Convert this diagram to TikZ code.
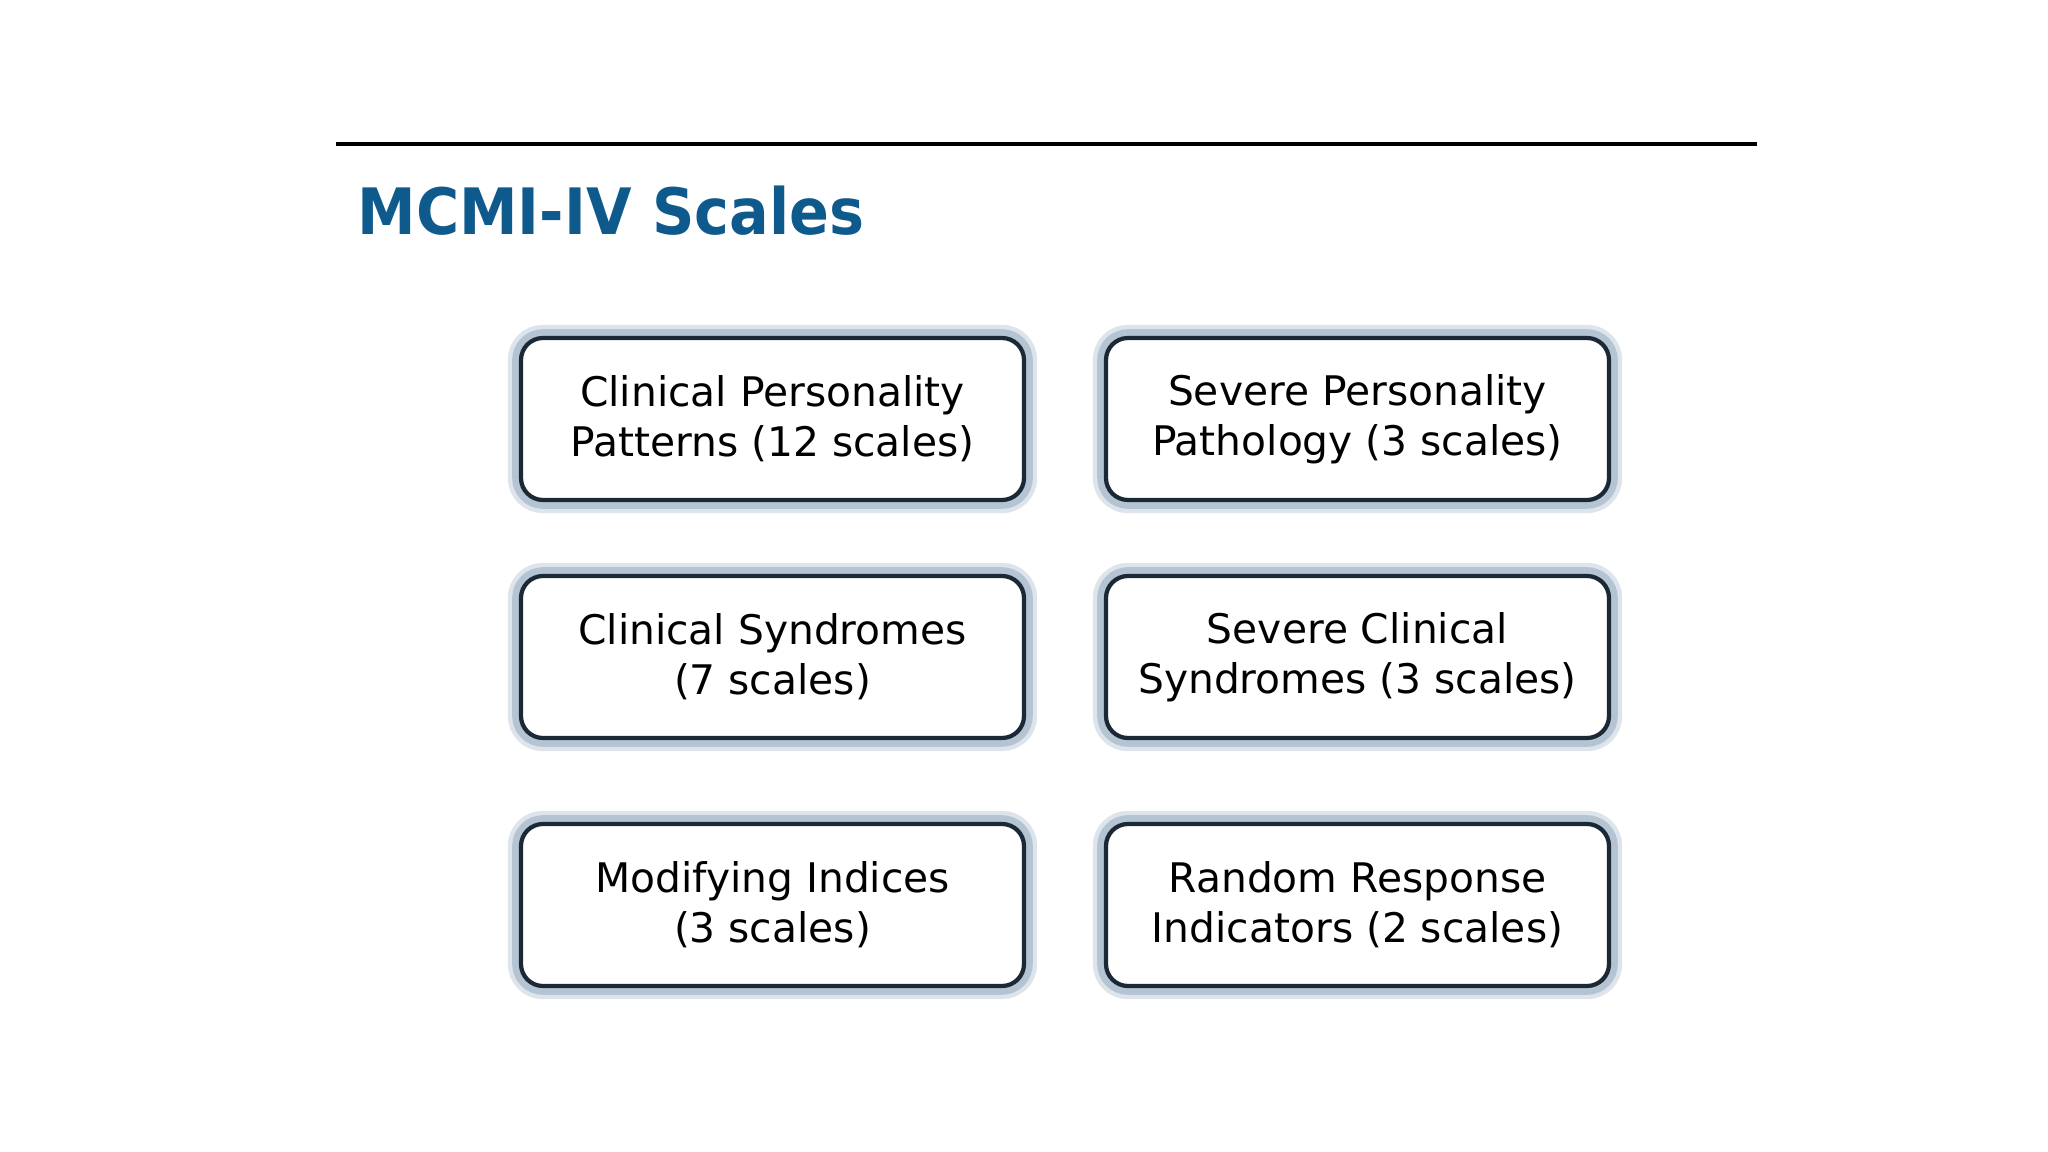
\documentclass[tikz,border=0pt]{standalone}
\usepackage{fontspec}
\setmainfont{DejaVu Sans}
\usetikzlibrary{positioning}
\definecolor{titleblue}{HTML}{0F5A8C}
\definecolor{boxedge}{HTML}{1B2836}
\definecolor{boxhalo}{HTML}{B4C4D2}
\tikzset{
  % kotak skala: tepi gelap dengan pendaran biru muda
  scalebox/.style={draw=boxedge, line width=1.2pt, rounded corners=0.22cm,
                   fill=white, minimum width=5.03cm, minimum height=1.62cm,
                   align=center, font=\fontsize{11.6}{14.2}\selectfont,
                   preaction={draw=boxhalo!45, line width=7.5pt},
                   preaction={draw=boxhalo, line width=5pt}},
  % judul slide
  slidetitle/.style={font=\fontsize{18.2}{22}\selectfont\bfseries, text=titleblue,
                     anchor=base west, inner sep=0pt, transform shape, xscale=0.92},
}

\begin{document}
\begin{tikzpicture}
\useasboundingbox (0,0) rectangle (20.48,-11.52);

% garis atas dan judul
\coordinate (ruleL) at (3.36,-1.44);
\coordinate (ruleR) at (17.57,-1.44);
\draw[line width=1.1pt] (ruleL) -- (ruleR);
\node[slidetitle] (title) at (3.57,-2.35) {MCMI-IV Scales};

% =================== KOTAK SKALA ===================
\node[scalebox] (cpp) at (7.725,-4.19) {Clinical Personality\\ Patterns (12 scales)};
\node[scalebox] (spp) at (13.575,-4.19) {Severe Personality\\ Pathology (3 scales)};
\node[scalebox] (cs)  at (7.725,-6.57) {Clinical Syndromes\\ (7 scales)};
\node[scalebox] (scs) at (13.575,-6.57) {Severe Clinical\\ Syndromes (3 scales)};
\node[scalebox] (mi)  at (7.725,-9.05) {Modifying Indices\\ (3 scales)};
\node[scalebox] (rri) at (13.575,-9.05) {Random Response\\ Indicators (2 scales)};

\end{tikzpicture}
\end{document}
